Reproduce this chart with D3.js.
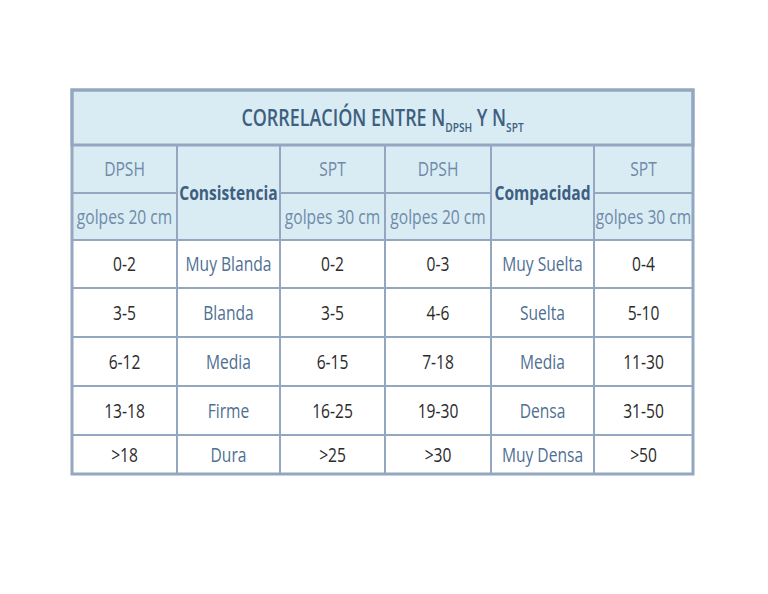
<!DOCTYPE html>
<html><head><meta charset="utf-8">
<script src="https://cdn.jsdelivr.net/npm/d3@7"></script>
<style>body{margin:0;background:#fff}</style>
</head><body>
<svg id="chart" width="768" height="594"></svg>
<script>
var title = "CORRELACIÓN ENTRE N";
var headTop = ["DPSH", "Consistencia", "SPT", "DPSH", "Compacidad", "SPT"];
var headSub = ["golpes 20 cm", null, "golpes 30 cm", "golpes 20 cm", null, "golpes 30 cm"];
var dpshCoh = ["0-2", "3-5", "6-12", "13-18", ">18"];
var consistencia = ["Muy Blanda", "Blanda", "Media", "Firme", "Dura"];
var sptCoh = ["0-2", "3-5", "6-15", "16-25", ">25"];
var dpshGran = ["0-3", "4-6", "7-18", "19-30", ">30"];
var compacidad = ["Muy Suelta", "Suelta", "Media", "Densa", "Muy Densa"];
var sptGran = ["0-4", "5-10", "11-30", "31-50", ">50"];

var colEdges = [72, 177, 280, 385, 491, 594, 693];
var rowEdges = [90, 145, 193, 240, 288, 337, 386, 435, 474];
var border = "#93a7c0", fill = "#d9ecf4", dark = "#2b2b2b", blue = "#4f6f93";
var font = "'Open Sans','DejaVu Sans',sans-serif";
var squeeze = 0.78;

var svg = d3.select("#chart");
var x = function(i) { return colEdges[i]; };
var y = function(i) { return rowEdges[i]; };

svg.append("rect").attr("x", x(0)).attr("y", y(0)).attr("width", x(6) - x(0))
    .attr("height", y(3) - y(0)).attr("fill", fill);

var cols = [dpshCoh, consistencia, sptCoh, dpshGran, compacidad, sptGran];
var cells = [];
cols.forEach(function(col, c) {
    col.forEach(function(v, r) {
        cells.push({c: c, r: r + 3, t: v, color: (c === 1 || c === 4) ? blue : dark});
    });
});
headTop.forEach(function(h, c) {
    var merged = headSub[c] === null;
    cells.push({c: c, r: 1, t: h, span: merged ? 2 : 1,
        color: merged ? "#3e5f80" : "#6f8aa8", bold: merged});
    if (!merged) cells.push({c: c, r: 2, t: headSub[c], color: "#6f8aa8"});
});

var g = svg.append("g");
g.selectAll("rect.cell").data(cells).enter().append("rect").attr("class", "cell")
    .attr("x", function(d) { return x(d.c); })
    .attr("y", function(d) { return y(d.r); })
    .attr("width", function(d) { return x(d.c + 1) - x(d.c); })
    .attr("height", function(d) { return y(d.r + (d.span || 1)) - y(d.r); })
    .attr("fill", "none").attr("stroke", border).attr("stroke-width", 2);

g.selectAll("text.cell").data(cells).enter().append("text")
    .attr("transform", function(d) {
        var cx = (x(d.c) + x(d.c + 1)) / 2;
        var cy = (y(d.r) + y(d.r + (d.span || 1))) / 2 + 7;
        return "translate(" + cx + "," + cy + ") scale(" + squeeze + ",1)";
    })
    .attr("text-anchor", "middle").attr("font-family", font)
    .attr("font-size", 20).attr("font-weight", function(d) { return d.bold ? "bold" : null; })
    .attr("fill", function(d) { return d.color; })
    .text(function(d) { return d.t; });

svg.append("rect").attr("x", x(0)).attr("y", y(0)).attr("width", x(6) - x(0))
    .attr("height", y(1) - y(0)).attr("fill", "none").attr("stroke", border).attr("stroke-width", 3);
var tt = svg.append("text")
    .attr("transform", "translate(" + ((x(0) + x(6)) / 2) + "," + (y(0) + 36) + ") scale(" + squeeze + ",1)")
    .attr("text-anchor", "middle").attr("font-family", font).attr("font-size", 23)
    .attr("font-weight", 600).attr("fill", "#3e5f80");
tt.append("tspan").text(title);
tt.append("tspan").attr("font-size", 13).attr("dy", 6).text("DPSH");
tt.append("tspan").attr("dy", -6).text(" Y N");
tt.append("tspan").attr("font-size", 13).attr("dy", 6).text("SPT");

svg.append("rect").attr("x", x(0)).attr("y", y(0)).attr("width", x(6) - x(0))
    .attr("height", y(8) - y(0)).attr("fill", "none").attr("stroke", border).attr("stroke-width", 3);
</script>
</body></html>
